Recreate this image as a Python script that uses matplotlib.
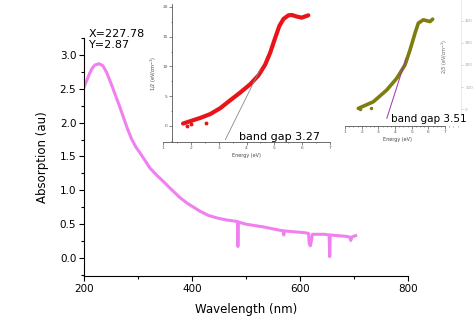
import matplotlib
matplotlib.use("Agg")
import matplotlib.pyplot as plt
from matplotlib.ticker import MultipleLocator

# ---- main spectrum ----
wavelength = [200, 205, 210, 215, 220, 227.78, 235, 242, 250, 257, 265, 273, 280, 288,
              296, 304, 313, 322, 335, 347, 357, 366, 378, 391, 403, 415, 430, 447, 465,
              484, 485, 486, 500, 515, 532, 550, 569, 570, 571, 585, 600, 612, 616, 617,
              619, 621, 623, 635, 645, 654, 655, 656, 670, 685, 692, 694, 696, 703]
absorption = [2.52, 2.62, 2.72, 2.80, 2.85, 2.87, 2.84, 2.74, 2.58, 2.43, 2.26, 2.08, 1.92, 1.76,
              1.64, 1.55, 1.44, 1.33, 1.22, 1.13, 1.05, 0.98, 0.89, 0.81, 0.75, 0.69, 0.63, 0.59, 0.56,
              0.54, 0.17, 0.53, 0.50, 0.48, 0.46, 0.43, 0.40, 0.34, 0.40, 0.39, 0.38, 0.37, 0.36, 0.22,
              0.18, 0.25, 0.35, 0.35, 0.35, 0.34, 0.02, 0.34, 0.33, 0.32, 0.31, 0.26, 0.31, 0.33]

# ---- inset 1 (red, exponent 1/2) ----
energy_red = [1.72, 1.98, 2.34, 2.70, 3.06, 3.41, 3.77, 4.13, 4.43, 4.67, 4.85, 5.03, 5.18,
              5.33, 5.51, 5.63, 5.80, 5.98, 6.16, 6.22]
val_red = [0.4, 0.8, 1.35, 2.0, 3.0, 4.3, 5.6, 7.0, 8.5, 10.3, 12.3, 14.8, 16.8,
           18.0, 18.6, 18.65, 18.4, 18.2, 18.5, 18.6]
outlier_red_e = [1.85, 2.0, 2.53]
outlier_red_v = [0.0, 0.4, 0.45]
tangent_red_e = [3.24, 4.49]
tangent_red_v = [-2.3, 9.5]

# ---- inset 2 (olive, exponent 2/3) ----
energy_ol = [1.80, 2.70, 3.50, 4.10, 4.60, 4.90, 5.20, 5.40, 5.70, 6.10, 6.26]
val_ol = [3, 33, 86, 139, 200, 268, 344, 390, 405, 397, 408]
outlier_ol_e = [1.9, 2.54]
outlier_ol_v = [-1, 3]
tangent_ol_e = [3.51, 4.66]
tangent_ol_v = [-42, 230]

W, H = 474, 331
fig = plt.figure(figsize=(W / 100, H / 100), dpi=100)
fig.patch.set_facecolor("white")

def px_axes(x0, y0, x1, y1):
    return fig.add_axes([x0 / W, 1 - y1 / H, (x1 - x0) / W, (y1 - y0) / H])

# main axes
ax = px_axes(84, 38, 408, 276)
ax.plot(wavelength, absorption, color="#f080f0", lw=2.2, solid_joinstyle="round")
ax.set_xlim(200, 800)
ax.set_ylim(-0.266, 3.25)
ax.spines["top"].set_visible(False)
ax.spines["right"].set_visible(False)
ax.xaxis.set_major_locator(MultipleLocator(200))
ax.xaxis.set_minor_locator(MultipleLocator(100))
ax.yaxis.set_major_locator(MultipleLocator(0.5))
ax.yaxis.set_minor_locator(MultipleLocator(0.25))
ax.yaxis.set_major_formatter(matplotlib.ticker.FormatStrFormatter("%.1f"))
ax.tick_params(which="major", length=3.5, width=0.8, labelsize=7.5, pad=2)
ax.tick_params(which="minor", length=2, width=0.8)
ax.set_xlabel("Wavelength (nm)", fontsize=8.5, labelpad=7)
ax.set_ylabel("Absorption (au)", fontsize=8.5, labelpad=8)
ax.set_facecolor("none")
fig.text(89 / W, 1 - 29 / H, "X=227.78\nY=2.87", fontsize=8, va="top", ha="left",
         linespacing=1.15)

# inset 1
a1 = px_axes(163, 4, 330, 142)
a1.set_facecolor("none")
a1.plot(energy_red, val_red, color="#e8141a", lw=3.0, solid_capstyle="round")
a1.plot(outlier_red_e, outlier_red_v, "o", color="#e8141a", ms=1.8)
a1.plot(tangent_red_e, tangent_red_v, color="#8a8a8a", lw=0.6)
a1.set_xlim(1, 7)
a1.set_ylim(-2.7, 20.5)
a1.spines["top"].set_visible(False)
a1.spines["right"].set_visible(False)
a1.spines["left"].set_position(("data", 1.32))
for s in ("left", "bottom"):
    a1.spines[s].set_linewidth(0.6)
    a1.spines[s].set_color("#555555")
a1.xaxis.set_major_locator(MultipleLocator(1))
a1.xaxis.set_minor_locator(MultipleLocator(0.5))
a1.yaxis.set_major_locator(MultipleLocator(5))
a1.yaxis.set_minor_locator(MultipleLocator(2.5))
a1.tick_params(which="major", length=2, width=0.5, labelsize=3.2, pad=1, colors="#555555")
a1.tick_params(which="minor", length=1, width=0.5, colors="#555555")
a1.set_xlabel("Energy (eV)", fontsize=3.5, labelpad=2, color="#444444")
a1.set_ylabel("1/2 (eV/cm$^{-1}$)", fontsize=3.5, labelpad=2, color="#444444")
a1.text(3.73, -2.36, "band gap 3.27", fontsize=8, va="baseline", ha="left")

# inset 2
a2 = px_axes(345, 0, 461, 126)
a2.set_facecolor("none")
a2.plot(energy_ol, val_ol, color="#7d7d10", lw=2.6, solid_capstyle="round")
a2.plot(outlier_ol_e, outlier_ol_v, "o", color="#7d7d10", ms=1.5)
a2.plot(tangent_ol_e, tangent_ol_v, color="#a030b0", lw=0.7)
a2.set_xlim(1, 7 + 16 / 16.67)
a2.set_ylim(-77, 495)
a2.spines["top"].set_visible(False)
a2.spines["left"].set_visible(False)
a2.spines["bottom"].set_bounds(1, 7)
a2.spines["bottom"].set_linewidth(0.6)
a2.spines["bottom"].set_color("#555555")
a2.spines["right"].set_linewidth(0.4)
a2.spines["right"].set_color("#dddddd")
a2.spines["right"].set_bounds(-20, 495)
a2.xaxis.set_minor_locator(MultipleLocator(0.25))
a2.set_xticks([1, 2, 3, 4, 5, 6, 7])
a2.yaxis.tick_right()
a2.set_yticks([0, 100, 200, 300, 400])
a2.tick_params(axis="x", which="major", length=2, width=0.5, labelsize=3.2, pad=1, colors="#555555")
a2.tick_params(axis="x", which="minor", length=1, width=0.4, colors="#555555")
a2.tick_params(axis="y", which="major", length=1.5, width=0.4, labelsize=3, pad=1.5,
               colors="#aaaaaa")
a2.set_xlabel("Energy (eV)", fontsize=3.5, labelpad=2, color="#444444")
a2.xaxis.set_label_coords(0.45, -0.085)
a2.set_ylabel("2/3 (eV/cm$^{-1}$)", fontsize=3.5, color="#666666")
a2.yaxis.set_label_position("left")
a2.yaxis.set_label_coords(0.905, 0.55)
a2.text(3.76, -59, "band gap 3.51", fontsize=7.5, va="baseline", ha="left")

fig.savefig("out.png", dpi=100)
